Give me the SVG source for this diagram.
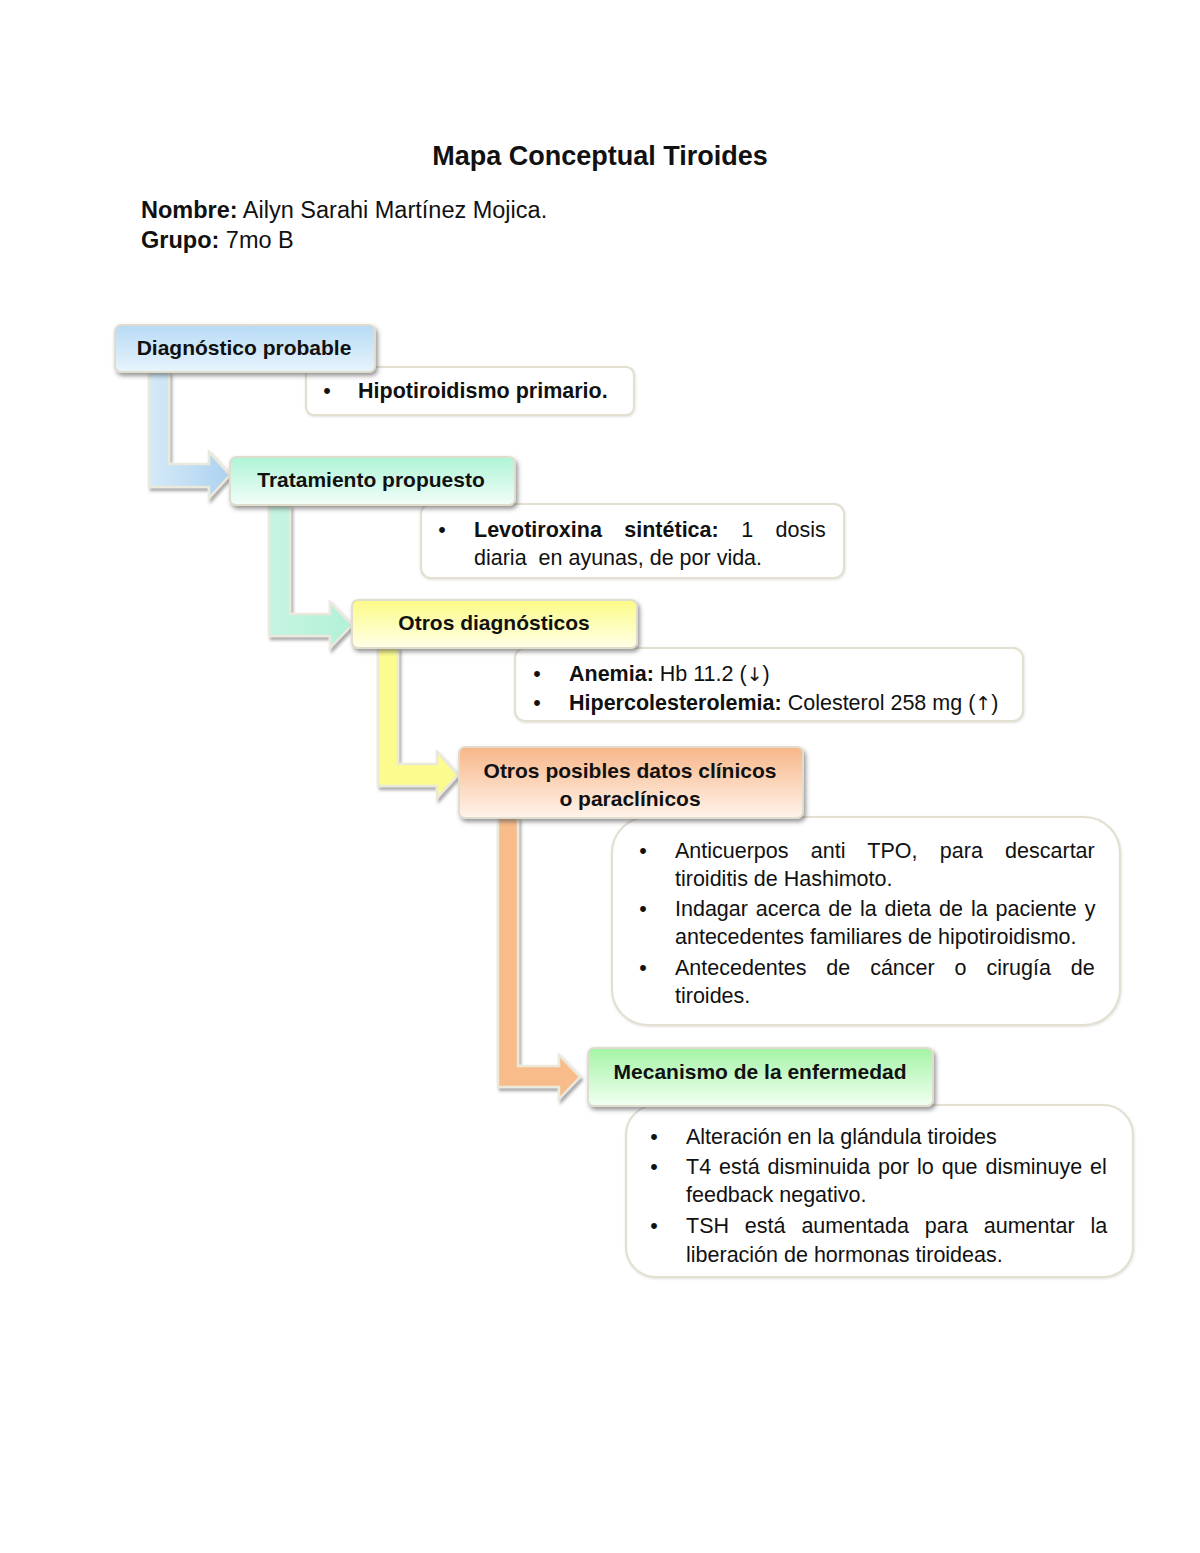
<svg xmlns="http://www.w3.org/2000/svg" width="1200" height="1553" viewBox="0 0 1200 1553">
<defs>
<style>
text{font-family:"Liberation Sans",Arial,sans-serif;fill:#111}
.b{font-weight:bold}
.t{font-size:21.5px}
.n{font-size:21px;font-weight:bold;text-anchor:middle}
.ar{font-family:"DejaVu Sans",sans-serif;font-size:19px;fill:#111}
.node{stroke:#e0ddcf;stroke-width:2}
.box{fill:#fff;stroke:#e3e0d2;stroke-width:2.2}
.conn{stroke:#ebe8dc;stroke-width:2.5;stroke-linejoin:miter}
</style>
<filter id="sh" x="-10%" y="-20%" width="125%" height="150%">
<feDropShadow dx="2" dy="3" stdDeviation="2" flood-color="#444" flood-opacity="0.55"/>
</filter>
<filter id="shc" x="-20%" y="-10%" width="150%" height="125%">
<feDropShadow dx="2" dy="3" stdDeviation="1.8" flood-color="#555" flood-opacity="0.5"/>
</filter>
<filter id="shb" x="-5%" y="-5%" width="110%" height="115%">
<feDropShadow dx="0.5" dy="1" stdDeviation="1" flood-color="#888" flood-opacity="0.25"/>
</filter>
<linearGradient id="gBlue" x1="0" y1="0" x2="0" y2="1"><stop offset="0" stop-color="#b7dbf5"/><stop offset="1" stop-color="#e8f4fc"/></linearGradient>
<linearGradient id="gMint" x1="0" y1="0" x2="0" y2="1"><stop offset="0" stop-color="#aef5d6"/><stop offset="1" stop-color="#f3fdf9"/></linearGradient>
<linearGradient id="gYel" x1="0" y1="0" x2="0" y2="1"><stop offset="0" stop-color="#fbfb86"/><stop offset="1" stop-color="#ffffe8"/></linearGradient>
<linearGradient id="gOr" x1="0" y1="0" x2="0" y2="1"><stop offset="0" stop-color="#f7b688"/><stop offset="1" stop-color="#fff4ec"/></linearGradient>
<linearGradient id="gGr" x1="0" y1="0" x2="0" y2="1"><stop offset="0" stop-color="#a4f4a6"/><stop offset="1" stop-color="#f1fff1"/></linearGradient>
<linearGradient id="cBlue" x1="0" y1="0" x2="1" y2="0"><stop offset="0" stop-color="#d6eaf7"/><stop offset="1" stop-color="#acd2f0"/></linearGradient>
<linearGradient id="cMint" x1="0" y1="0" x2="1" y2="0"><stop offset="0" stop-color="#c6f5e2"/><stop offset="1" stop-color="#b2f1d8"/></linearGradient>
</defs>
<rect width="1200" height="1553" fill="#fff"/>

<g id="header">
<text x="600" y="165" text-anchor="middle" class="b" style="font-size:27px">Mapa Conceptual Tiroides</text>
<text x="141" y="218" style="font-size:23.5px"><tspan class="b">Nombre:</tspan> Ailyn Sarahi Martínez Mojica.</text>
<text x="141" y="248" style="font-size:23.5px"><tspan class="b">Grupo:</tspan> 7mo B</text>
</g>

<g id="connectors">
<path class="conn" filter="url(#shc)" fill="url(#cBlue)" d="M149,372 L169,372 L169,464 L209,464 L209,452 L230,475 L209,498 L209,487 L149,487 Z"/>
<path class="conn" filter="url(#shc)" fill="url(#cMint)" d="M269,506 L290,506 L290,614 L330,614 L330,602 L352,625 L330,648 L330,636 L269,636 Z"/>
<path class="conn" filter="url(#shc)" fill="#fbfb8e" d="M378,648 L398,648 L398,764 L437,764 L437,752 L458,775 L437,798 L437,786 L378,786 Z"/>
<path class="conn" filter="url(#shc)" fill="#f8bc8a" d="M498,818 L518,818 L518,1066 L559,1066 L559,1055 L580,1077 L559,1099 L559,1087 L498,1087 Z"/>
</g>

<g id="box1">
<rect class="box" filter="url(#shb)" x="306" y="367" width="328" height="48" rx="8"/>
<text class="t" x="327" y="398" text-anchor="middle">•</text>
<text class="t b" x="358" y="398">Hipotiroidismo primario.</text>
</g>

<g id="box2">
<rect class="box" filter="url(#shb)" x="421" y="504" width="423" height="74" rx="10"/>
<text class="t" x="442" y="537" text-anchor="middle">•</text>
<text class="t" x="474" y="537" word-spacing="16.5"><tspan class="b">Levotiroxina sintética:</tspan> 1 dosis</text>
<text class="t" x="474" y="565" xml:space="preserve">diaria  en ayunas, de por vida.</text>
</g>

<g id="box3">
<rect class="box" filter="url(#shb)" x="515" y="648" width="508" height="73" rx="10"/>
<text class="t" x="537" y="681" text-anchor="middle">•</text>
<text class="t" x="569" y="681"><tspan class="b">Anemia:</tspan> Hb 11.2 (<tspan class="ar">↓</tspan>)</text>
<text class="t" x="537" y="710" text-anchor="middle">•</text>
<text class="t" x="569" y="710"><tspan class="b">Hipercolesterolemia:</tspan> Colesterol 258 mg (<tspan class="ar">↑</tspan>)</text>
</g>

<g id="box4">
<rect class="box" filter="url(#shb)" x="612" y="817" width="508" height="208" rx="36"/>
<text class="t" x="643" y="858" text-anchor="middle">•</text>
<text class="t" x="675" y="858" word-spacing="16.3">Anticuerpos anti TPO, para descartar</text>
<text class="t" x="675" y="886">tiroiditis de Hashimoto.</text>
<text class="t" x="643" y="916" text-anchor="middle">•</text>
<text class="t" x="675" y="916" word-spacing="1.9">Indagar acerca de la dieta de la paciente y</text>
<text class="t" x="675" y="944">antecedentes familiares de hipotiroidismo.</text>
<text class="t" x="643" y="975" text-anchor="middle">•</text>
<text class="t" x="675" y="975" word-spacing="13.9">Antecedentes de cáncer o cirugía de</text>
<text class="t" x="675" y="1003">tiroides.</text>
</g>

<g id="box5">
<rect class="box" filter="url(#shb)" x="626" y="1105" width="507" height="172" rx="30"/>
<text class="t" x="654" y="1144" text-anchor="middle">•</text>
<text class="t" x="686" y="1144">Alteración en la glándula tiroides</text>
<text class="t" x="654" y="1174" text-anchor="middle">•</text>
<text class="t" x="686" y="1174" word-spacing="1.9">T4 está disminuida por lo que disminuye el</text>
<text class="t" x="686" y="1202">feedback negativo.</text>
<text class="t" x="654" y="1233" text-anchor="middle">•</text>
<text class="t" x="686" y="1233" word-spacing="9.9">TSH está aumentada para aumentar la</text>
<text class="t" x="686" y="1262">liberación de hormonas tiroideas.</text>
</g>

<g id="node1">
<rect class="node" filter="url(#sh)" fill="url(#gBlue)" x="115" y="325" width="260" height="47" rx="6"/>
<text class="n" x="244" y="355">Diagnóstico probable</text>
</g>
<g id="node2">
<rect class="node" filter="url(#sh)" fill="url(#gMint)" x="230" y="457" width="285" height="48" rx="6"/>
<text class="n" x="371" y="487">Tratamiento propuesto</text>
</g>
<g id="node3">
<rect class="node" filter="url(#sh)" fill="url(#gYel)" x="352" y="600" width="285" height="48" rx="6"/>
<text class="n" x="494" y="630">Otros diagnósticos</text>
</g>
<g id="node4">
<rect class="node" filter="url(#sh)" fill="url(#gOr)" x="459" y="747" width="344" height="71" rx="6"/>
<text class="n" x="630" y="778">Otros posibles datos clínicos</text>
<text class="n" x="630" y="806">o paraclínicos</text>
</g>
<g id="node5">
<rect class="node" filter="url(#sh)" fill="url(#gGr)" x="588" y="1048" width="345" height="58" rx="6"/>
<text class="n" x="760" y="1079">Mecanismo de la enfermedad</text>
</g>
</svg>
